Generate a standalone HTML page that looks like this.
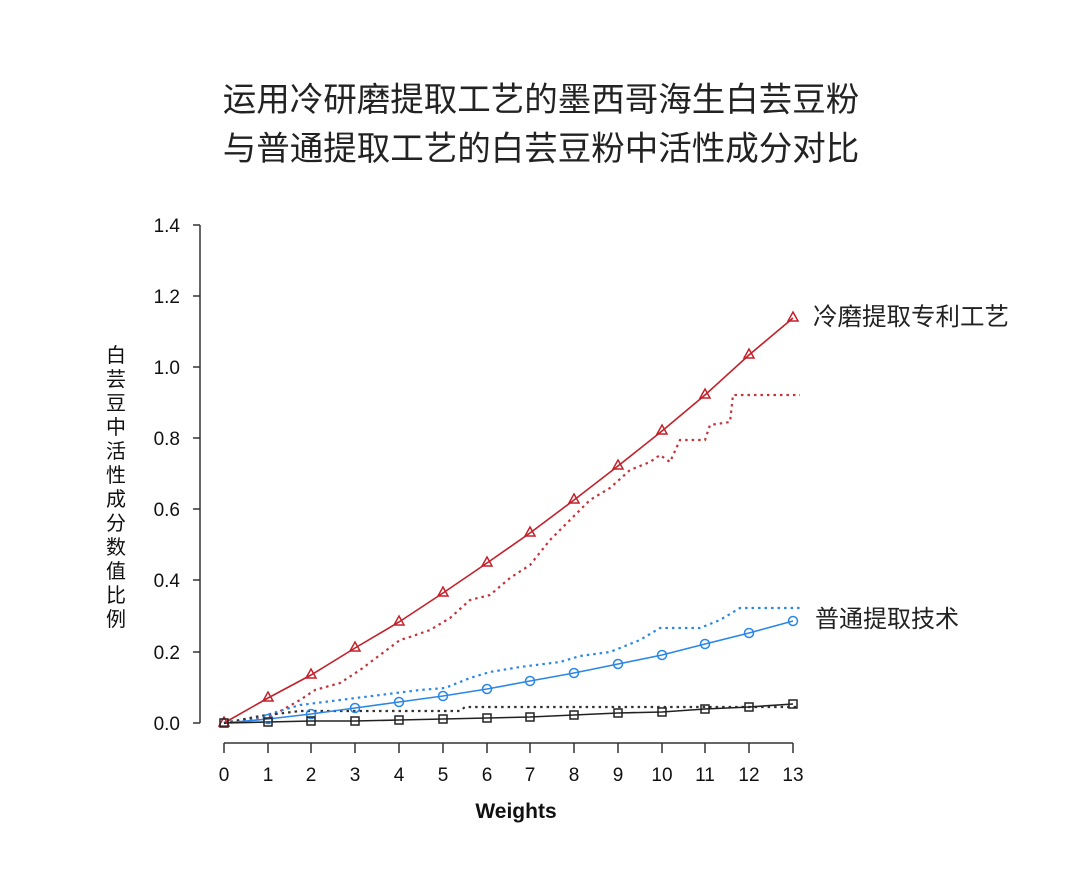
<!DOCTYPE html>
<html><head><meta charset="utf-8"><style>
body{margin:0;background:#fff;}
svg text{font-family:"Liberation Sans","Noto Sans CJK SC",sans-serif;}
</style></head><body>
<svg width="1080" height="891" xmlns="http://www.w3.org/2000/svg">
<text x="541" y="111" font-size="33.5" text-anchor="middle" fill="#222">运用冷研磨提取工艺的墨西哥海生白芸豆粉</text>
<text x="541" y="160" font-size="33.5" text-anchor="middle" fill="#222">与普通提取工艺的白芸豆粉中活性成分对比</text>
<g stroke="#333" stroke-width="1.5" fill="none">
<path d="M200 225V723"/>
<path d="M193 225H200M193 296H200M193 367H200M193 438H200M193 509H200M193 580H200M193 652H200M193 723H200"/>
<path d="M224 743H793"/>
<path d="M224 743v10M268 743v10M311 743v10M355 743v10M399 743v10M443 743v10M487 743v10M530 743v10M574 743v10M618 743v10M662 743v10M705 743v10M749 743v10M793 743v10"/>
</g>
<g font-size="19" fill="#111" text-anchor="end">
<text x="180" y="232">1.4</text><text x="180" y="303">1.2</text><text x="180" y="374">1.0</text><text x="180" y="445">0.8</text><text x="180" y="516">0.6</text><text x="180" y="587">0.4</text><text x="180" y="659">0.2</text><text x="180" y="730">0.0</text>
</g>
<g font-size="19" fill="#111" text-anchor="middle">
<text x="224" y="781">0</text><text x="268" y="781">1</text><text x="311" y="781">2</text><text x="355" y="781">3</text><text x="399" y="781">4</text><text x="443" y="781">5</text><text x="487" y="781">6</text><text x="530" y="781">7</text><text x="574" y="781">8</text><text x="618" y="781">9</text><text x="662" y="781">10</text><text x="705" y="781">11</text><text x="749" y="781">12</text><text x="793" y="781">13</text>
</g>
<text x="516" y="818" font-size="21" font-weight="bold" text-anchor="middle" fill="#111">Weights</text>
<g font-size="20" fill="#111" text-anchor="middle">
<text x="116" y="362">白</text><text x="116" y="386">芸</text><text x="116" y="410">豆</text><text x="116" y="434">中</text><text x="116" y="458">活</text><text x="116" y="482">性</text><text x="116" y="506">成</text><text x="116" y="530">分</text><text x="116" y="554">数</text><text x="116" y="578">值</text><text x="116" y="602">比</text><text x="116" y="626">例</text>
</g>
<text x="813" y="325" font-size="24.5" fill="#222">冷磨提取专利工艺</text>
<text x="815" y="627" font-size="24" fill="#222">普通提取技术</text>
<g fill="none" stroke-width="2.2" stroke-dasharray="2.5 4">
<polyline stroke="#c4323a" points="224,723 268,718 300,700 315,690 340,683 360,670 380,655 400,640 410,637 430,630 450,618 470,600 490,595 510,578 530,565 550,540 570,520 590,500 610,488 630,470 650,462 660,455 670,462 680,440 705,440 710,425 730,422 733,395 800,395"/>
<polyline stroke="#2a87e8" points="224,723 260,717 300,705 340,700 380,695 420,690 445,688 470,678 490,672 520,667 560,662 580,656 610,652 640,640 660,628 700,628 720,620 740,608 800,608"/>
<polyline stroke="#333" points="224,723 260,716 300,711 460,711 465,707 800,707"/>
</g>
<polyline fill="none" stroke="#c4202a" stroke-width="1.6" points="224,723 268,698 311,675 355,648 399,622 443,593 487,563 530,533 574,500 618,466 662,431 705,395 749,355 793,318"/>
<polyline fill="none" stroke="#2a87e8" stroke-width="1.6" points="224,723 268,719 311,714 355,708 399,702 443,696 487,689 530,681 574,673 618,664 662,655 705,644 749,633 793,621"/>
<polyline fill="none" stroke="#222" stroke-width="1.6" points="224,723 268,722 311,721 355,721 399,720 443,719 487,718 530,717 574,715 618,713 662,712 705,709 749,707 793,704"/>
<g fill="none" stroke="#c4202a" stroke-width="1.5">
<path d="M224 717l5 9h-10z M268 692l5 9h-10z M311 669l5 9h-10z M355 642l5 9h-10z M399 616l5 9h-10z M443 587l5 9h-10z M487 557l5 9h-10z M530 527l5 9h-10z M574 494l5 9h-10z M618 460l5 9h-10z M662 425l5 9h-10z M705 389l5 9h-10z M749 349l5 9h-10z M793 312l5 9h-10z"/>
</g>
<g fill="none" stroke="#2a87e8" stroke-width="1.5">
<circle cx="268" cy="719" r="4.5"/><circle cx="311" cy="714" r="4.5"/><circle cx="355" cy="708" r="4.5"/><circle cx="399" cy="702" r="4.5"/><circle cx="443" cy="696" r="4.5"/><circle cx="487" cy="689" r="4.5"/><circle cx="530" cy="681" r="4.5"/><circle cx="574" cy="673" r="4.5"/><circle cx="618" cy="664" r="4.5"/><circle cx="662" cy="655" r="4.5"/><circle cx="705" cy="644" r="4.5"/><circle cx="749" cy="633" r="4.5"/><circle cx="793" cy="621" r="4.5"/>
</g>
<g fill="none" stroke="#222" stroke-width="1.5">
<rect x="220" y="719" width="8" height="8"/><rect x="264" y="718" width="8" height="8"/><rect x="307" y="717" width="8" height="8"/><rect x="351" y="717" width="8" height="8"/><rect x="395" y="716" width="8" height="8"/><rect x="439" y="715" width="8" height="8"/><rect x="483" y="714" width="8" height="8"/><rect x="526" y="713" width="8" height="8"/><rect x="570" y="711" width="8" height="8"/><rect x="614" y="709" width="8" height="8"/><rect x="658" y="708" width="8" height="8"/><rect x="701" y="705" width="8" height="8"/><rect x="745" y="703" width="8" height="8"/><rect x="789" y="700" width="8" height="8"/>
</g>
</svg>
</body></html>
